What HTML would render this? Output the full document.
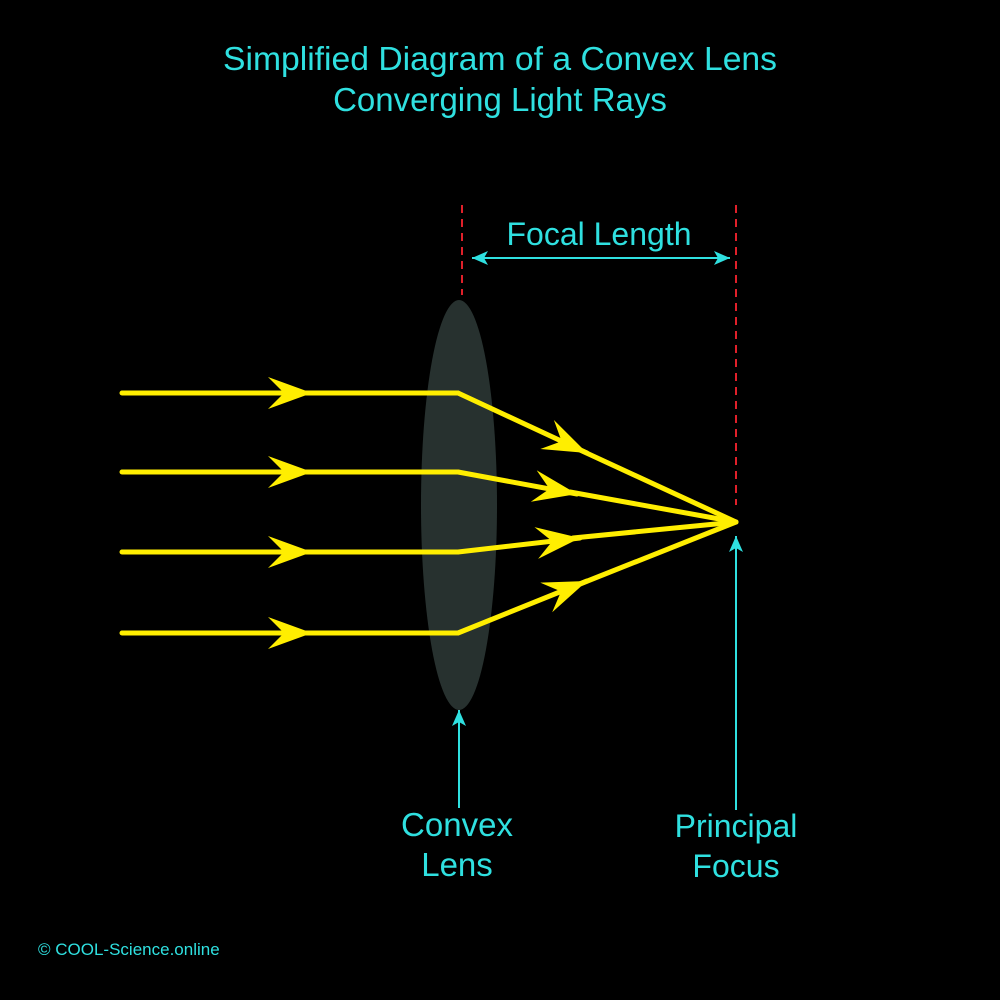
<!DOCTYPE html>
<html><head><meta charset="utf-8"><style>
html,body{margin:0;padding:0;background:#000;}
svg{display:block}
text{font-family:"Liberation Sans",sans-serif;fill:#2fe0e0;}
</style></head><body>
<svg width="1000" height="1000" viewBox="0 0 1000 1000" xmlns="http://www.w3.org/2000/svg">
<defs>
<marker id="ah" markerUnits="userSpaceOnUse" markerWidth="50" markerHeight="40" refX="44" refY="16" orient="auto">
<path d="M0,0 L44,16 L0,32 L16,16 Z" fill="#ffee00"/>
</marker>
<marker id="ca" markerUnits="userSpaceOnUse" markerWidth="20" markerHeight="16" refX="16" refY="7" orient="auto">
<path d="M0,0 L16,7 L0,14 L4,7 Z" fill="#2fe0e0"/>
</marker>
</defs>
<rect width="1000" height="1000" fill="#000"/>
<text x="500" y="70" font-size="33" text-anchor="middle" textLength="554" lengthAdjust="spacingAndGlyphs">Simplified Diagram of a Convex Lens</text>
<text x="500" y="111" font-size="33" text-anchor="middle">Converging Light Rays</text>

<ellipse cx="459" cy="505" rx="38" ry="205" fill="#27312f"/>

<g stroke="#e0202a" stroke-width="2" stroke-dasharray="8,6">
<line x1="462" y1="205" x2="462" y2="295"/>
<line x1="736" y1="205" x2="736" y2="505"/>
</g>

<text x="599" y="245" font-size="32" text-anchor="middle">Focal Length</text>
<g stroke="#2fe0e0" stroke-width="2">
<line x1="600" y1="258" x2="472" y2="258" marker-end="url(#ca)"/>
<line x1="600" y1="258" x2="730" y2="258" marker-end="url(#ca)"/>
<line x1="459" y1="808" x2="459" y2="710" marker-end="url(#ca)"/>
<line x1="736" y1="810" x2="736" y2="536" marker-end="url(#ca)"/>
</g>

<g stroke="#ffee00" stroke-width="5" fill="none" stroke-linecap="round">
<line x1="122" y1="393" x2="312" y2="393" marker-end="url(#ah)"/>
<line x1="305" y1="393" x2="458" y2="393"/>
<line x1="458" y1="393" x2="587" y2="453" marker-end="url(#ah)"/>
<line x1="580" y1="450" x2="736" y2="522"/>

<line x1="122" y1="472" x2="312" y2="472" marker-end="url(#ah)"/>
<line x1="305" y1="472" x2="458" y2="472"/>
<line x1="458" y1="472" x2="577" y2="494" marker-end="url(#ah)"/>
<line x1="570" y1="492" x2="736" y2="522"/>

<line x1="122" y1="552" x2="312" y2="552" marker-end="url(#ah)"/>
<line x1="305" y1="552" x2="458" y2="552"/>
<line x1="458" y1="552" x2="580" y2="538" marker-end="url(#ah)"/>
<line x1="573" y1="538" x2="736" y2="522"/>

<line x1="122" y1="633" x2="312" y2="633" marker-end="url(#ah)"/>
<line x1="305" y1="633" x2="458" y2="633"/>
<line x1="458" y1="633" x2="587" y2="581" marker-end="url(#ah)"/>
<line x1="580" y1="584" x2="736" y2="522"/>
</g>

<text x="457" y="836" font-size="33" text-anchor="middle">Convex</text>
<text x="457" y="876" font-size="33" text-anchor="middle">Lens</text>
<text x="736" y="837" font-size="32" text-anchor="middle">Principal</text>
<text x="736" y="877" font-size="32" text-anchor="middle">Focus</text>
<text x="38" y="955" font-size="17">© COOL-Science.online</text>
</svg>
</body></html>
